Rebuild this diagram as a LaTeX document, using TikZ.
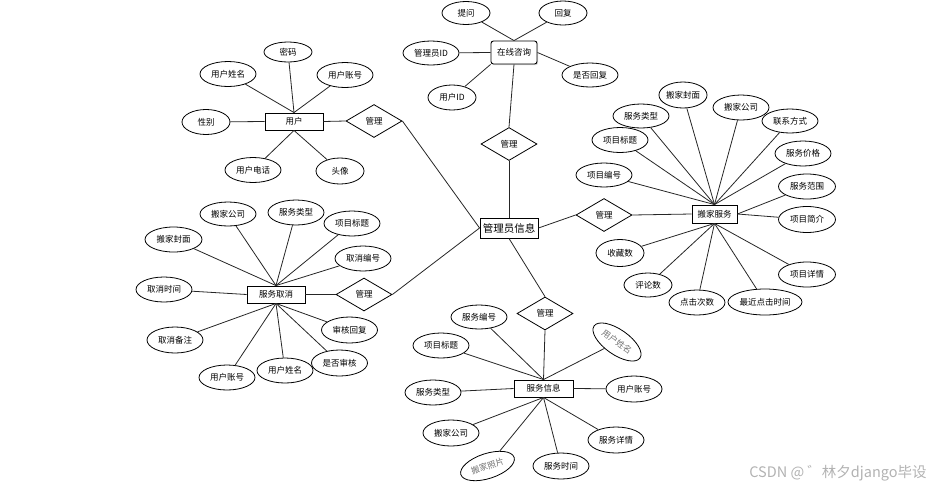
\documentclass[tikz,border=0pt]{standalone}
\usepackage{fontspec}
\setmainfont{Noto Sans CJK SC}
\usepackage{xcolor}
\usetikzlibrary{shapes.geometric, positioning, shadows}

\begin{document}
\begin{tikzpicture}[
    x=1pt, y=-1pt,
    attr/.style = {ellipse, draw, fill=white, line width=0.8pt, minimum width=56pt, minimum height=25pt, inner sep=0pt, font=\fontsize{8.5}{10}\selectfont},
    short/.style = {minimum width=48pt},
    faded/.style = {text=black!55},
    ent/.style = {rectangle, draw, fill=white, line width=0.9pt, drop shadow={shadow xshift=1.2pt, shadow yshift=-1.2pt, opacity=0.3}, minimum width=58pt, minimum height=17pt, inner sep=0pt, font=\fontsize{8.5}{10}\selectfont},
    rel/.style = {diamond, draw, fill=white, line width=0.8pt, minimum width=56pt, minimum height=33pt, inner sep=0pt, font=\fontsize{8.5}{10}\selectfont},
    link/.style = {line width=0.8pt, draw=black!85}
]
\useasboundingbox (0,0) rectangle (946,491);

% Entities
\node (admin) [ent, minimum height=20pt, font=\fontsize{10.5}{12}\selectfont] at (509,228) {管理员信息};
\node (user) [ent] at (294,121.5) {用户};
\node (consult) [ent, rounded corners=2.5pt, minimum width=46pt, minimum height=23pt] at (514,52.5) {在线咨询};
\node (move) [ent, minimum width=45pt, minimum height=18pt] at (714.5,214) {搬家服务};
\node (cancel) [ent] at (276,294.5) {服务取消};
\node (info) [ent, minimum width=59pt] at (543.5,388.5) {服务信息};

% Relations
\node (r-user) [rel] at (374,121) {管理};
\node (r-consult) [rel] at (509,144) {管理};
\node (r-move) [rel] at (604,215) {管理};
\node (r-cancel) [rel] at (364,294.5) {管理};
\node (r-info) [rel] at (545,313.5) {管理};

% Attributes of 用户
\node (u-pwd) [attr, short, minimum height=20pt] at (288,52) {密码};
\node (u-name) [attr] at (228,74) {用户姓名};
\node (u-acc) [attr] at (345,75) {用户账号};
\node (u-sex) [attr, short] at (206,122) {性别};
\node (u-tel) [attr] at (253,170) {用户电话};
\node (u-img) [attr, short, minimum height=26pt] at (340,171) {头像};

% Attributes of 在线咨询
\node (c-ask) [attr, short, minimum height=23pt] at (466,13) {提问};
\node (c-reply) [attr, short, minimum height=24pt] at (563,13) {回复};
\node (c-admin) [attr, minimum height=24pt] at (431,53) {管理员ID};
\node (c-state) [attr, minimum height=24pt] at (590,75) {是否回复};
\node (c-user) [attr, short] at (452,97.5) {用户ID};

% Attributes of 搬家服务
\node (m-cover) [attr, short, minimum height=26pt] at (683,95) {搬家封面};
\node (m-comp) [attr] at (741,107.5) {搬家公司};
\node (m-type) [attr, minimum height=24pt] at (641,116) {服务类型};
\node (m-tel) [attr, minimum height=24pt] at (790,121) {联系方式};
\node (m-title) [attr] at (620,140) {项目标题};
\node (m-price) [attr] at (803,153.5) {服务价格};
\node (m-no) [attr, minimum height=24pt] at (604,175) {项目编号};
\node (m-range) [attr, minimum width=57pt] at (807,186.5) {服务范围};
\node (m-intro) [attr, minimum width=57pt, minimum height=26pt] at (807,219.5) {项目简介};
\node (m-fav) [attr, short, minimum height=27pt] at (620,253) {收藏数};
\node (m-detail) [attr, minimum width=57pt] at (807,274.5) {项目详情};
\node (m-cmt) [attr, short, minimum height=24pt] at (648,285) {评论数};
\node (m-hits) [attr] at (697,302.5) {点击次数};
\node (m-last) [attr, minimum width=74pt, minimum height=26pt] at (765,302) {最近点击时间};

% Attributes of 服务取消
\node (k-comp) [attr, minimum height=24pt] at (228,214) {搬家公司};
\node (k-type) [attr] at (296,212.5) {服务类型};
\node (k-title) [attr] at (352,223.5) {项目标题};
\node (k-cover) [attr, minimum width=57pt] at (173.5,239.5) {搬家封面};
\node (k-no) [attr] at (363,258.5) {取消编号};
\node (k-time) [attr] at (164,289.5) {取消时间};
\node (k-reply) [attr, minimum height=26pt] at (349.5,330) {审核回复};
\node (k-note) [attr, minimum height=26pt] at (175,340) {取消备注};
\node (k-check) [attr, minimum height=26pt] at (339.5,363) {是否审核};
\node (k-name) [attr] at (285,370.5) {用户姓名};
\node (k-acc) [attr] at (227,377.5) {用户账号};

% Attributes of 服务信息
\node (s-no) [attr, minimum height=24pt] at (479,317) {服务编号};
\node (s-title) [attr] at (441,345.5) {项目标题};
\node (s-name) [attr, faded, rotate=-35] at (617,342) {用户姓名};
\node (s-acc) [attr, minimum height=26pt] at (634,389) {用户账号};
\node (s-type) [attr] at (433,392.5) {服务类型};
\node (s-comp) [attr, minimum height=26pt] at (451,433) {搬家公司};
\node (s-pic) [attr, faded, rotate=18] at (487.5,466) {搬家照片};
\node (s-time) [attr, minimum height=26pt] at (561,466) {服务时间};
\node (s-detail) [attr, minimum height=26pt] at (616,440) {服务详情};

% Watermark
\node (mark) [text=black!30, font=\fontsize{14.5}{16}\selectfont] at (838,473) {CSDN @ ゛林夕django毕设};

% Links of 用户
\draw [link] (u-name) -- (user.north);
\draw [link] (u-pwd) -- (user.north);
\draw [link] (u-acc) -- (user.north);
\draw [link] (u-sex) -- (user.west);
\draw [link] (u-tel) -- (user.south);
\draw [link] (u-img) -- (user.south);
\draw [link] (user.east) -- (r-user.west);
\draw [link] (r-user.east) -- (admin.west);

% Links of 在线咨询
\draw [link] (c-ask) -- (consult.north);
\draw [link] (c-reply) -- (consult.north);
\draw [link] (c-admin) -- (consult.west);
\draw [link] (c-state) -- (consult.east);
\draw [link] (c-user) -- (consult.south west);
\draw [link] (consult.south) -- (r-consult.north);
\draw [link] (r-consult.south) -- (admin.north);

% Links of 搬家服务
\foreach \a in {m-cover, m-comp, m-type, m-tel, m-title, m-price, m-no}
    \draw [link] (\a) -- (move.north);
\foreach \a in {m-range, m-intro}
    \draw [link] (\a) -- (move.east);
\foreach \a in {m-fav, m-cmt, m-hits, m-last, m-detail}
    \draw [link] (\a) -- (move.south);
\draw [link] (admin.east) -- (r-move.west);
\draw [link] (r-move.east) -- (move.west);

% Links of 服务取消
\foreach \a in {k-comp, k-type, k-title, k-cover, k-no}
    \draw [link] (\a) -- (cancel.north);
\draw [link] (k-time) -- (cancel.west);
\foreach \a in {k-note, k-reply, k-check, k-name, k-acc}
    \draw [link] (\a) -- (cancel.south);
\draw [link] (cancel.east) -- (r-cancel.west);
\draw [link] (r-cancel.east) -- (admin.west);

% Links of 服务信息
\foreach \a in {s-no, s-title, s-name}
    \draw [link] (\a) -- (info.north);
\draw [link] (r-info.south) -- (info.north);
\draw [link] (s-type) -- (info.west);
\draw [link] (s-acc) -- (info.east);
\foreach \a in {s-comp, s-pic, s-time, s-detail}
    \draw [link] (\a) -- (info.south);
\draw [link] (admin.south) -- (r-info.north);

\end{tikzpicture}
\end{document}
